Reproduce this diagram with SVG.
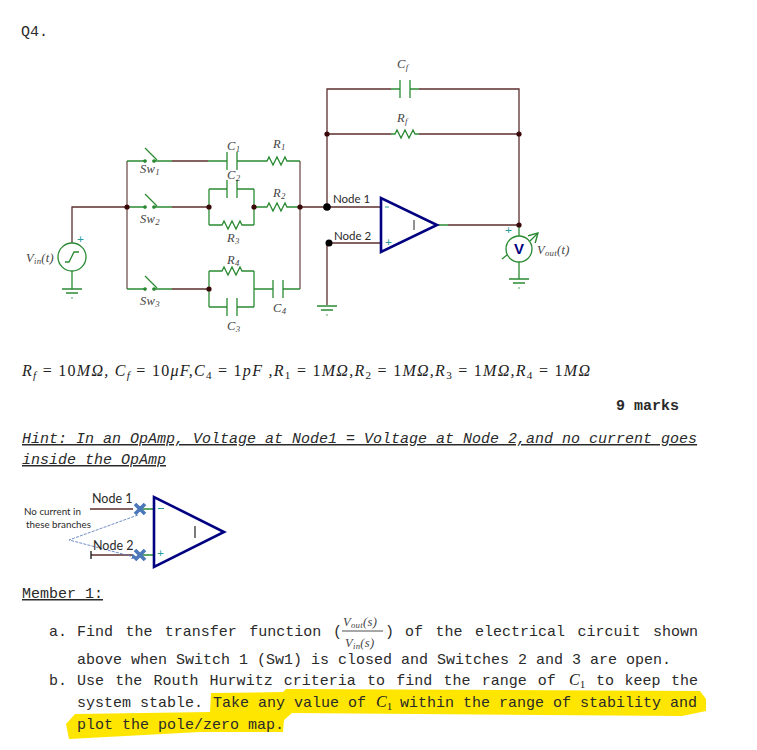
<svg xmlns="http://www.w3.org/2000/svg" width="757" height="750" viewBox="0 0 757 750">
<style>
text{font-family:"Lato","Liberation Sans",sans-serif;fill:#2a2a2a}
.m{font-family:"Liberation Mono",monospace;font-size:15px}
.e{font-family:"Liberation Serif",serif;font-style:italic;font-size:12.5px;fill:#444;letter-spacing:.3px}
.q{font-family:"Liberation Serif",serif;font-style:italic;font-size:16px;fill:#222}
.s{font-size:70%}
.n{font-size:11.5px}
.g,.b,.y,.t{fill:none}
.g{stroke:#2a8a32;stroke-width:1.3}
.b{stroke:#5c2f2f;stroke-width:1.3}
.y{stroke:#8d7272;stroke-width:1.6}
.t{stroke:#000080;stroke-width:2.6;stroke-linejoin:miter}
.d{fill:#3a0808}
.k{fill:#000}
.p{fill:#2a9a9a;font-size:12px}
.c{fill:none;stroke:#5f80c0;stroke-width:.9;stroke-dasharray:3 1.2}
.x{stroke:#4a78b8;stroke-width:3.6;fill:none}
</style>
<defs>
<path id="res" d="M0 0H4l2-4 4 8 4-8 4 8 4-8 2 4H28"/>
<path id="cap" d="M-5-9V9M5-9V9"/>
<g id="gnd"><path d="M-10 0H10M-6 4H6"/><path d="M-1 9H1" stroke-opacity=".5"/></g>
<g id="sw"><path d="M0 -13 12 -1"/><circle cx="0" r="1.2" fill="#2a8a32"/><circle cx="9" r="1.2" fill="#2a8a32"/></g>
<marker id="arr" markerWidth="8" markerHeight="8" refX="6" refY="4" orient="auto"><path d="M0 0 7 4 0 8" fill="none" stroke="#2a8a32" stroke-width="1.1"/></marker>
<marker id="cal" markerWidth="8" markerHeight="8" refX="7" refY="4" orient="auto"><path d="M0 1 7 4 0 7Z" fill="#4a78b8"/></marker>
</defs>

<path id="highlight" d="M211 693 283 692 286 689 700 691 706 699 706 711 682 716 292 713 284 720 283 732 200 732 69 739 66 724 75 714 210 712Z" fill="#ffe600"/>

<g id="connectors">
<path class="y" d="M127 161V289M300 161V289"/>
<path class="b" d="M72 243V207H127M172 161H208M172 207H209M172 289H209M300 207H381M327 207V89H391M419 89H519V225M327 134H391M419 134H519M329 243H381M327 243V305M448 225H519"/>
<path class="g" d="M127 161H145M154 161H172M208 161H227M237 161H263M291 161H300M127 207H145M153 207H172M209 189V225M254 189V225M209 189H227M237 189H254M209 225H218M246 225H254M254 207H263M291 207H300M127 289H145M154 289H172M209 271V307M254 271V307M209 271H218M246 271H254M209 307H227M237 307H254M254 289H273M283 289H300M72 271V289M519 225V236M519 262V279M391 89H400M410 89H419M437 225H448"/>
<use href="#res" class="g" x="263" y="161"/>
<use href="#res" class="g" x="263" y="207"/>
<use href="#res" class="g" x="218" y="225"/>
<use href="#res" class="g" x="218" y="271"/>
<use href="#res" class="g" x="391" y="134"/>
<use href="#cap" class="g" x="232" y="161"/>
<use href="#cap" class="g" x="232" y="189"/>
<use href="#cap" class="g" x="232" y="307"/>
<use href="#cap" class="g" x="278" y="289"/>
<use href="#cap" class="g" x="405" y="89"/>
<use href="#sw" class="g" x="145" y="161"/>
<use href="#sw" class="g" x="145" y="207"/>
<use href="#sw" class="g" x="145" y="289"/>
<use href="#gnd" class="g" x="72" y="289"/>
<use href="#gnd" class="g" x="327" y="306"/>
<use href="#gnd" class="g" x="519" y="279"/>
<path class="g" d="M502 259 507 255M530 241 537 234" marker-end="url(#arr)"/>
</g>

<g id="junctions">
<circle class="d" cx="127" cy="207" r="2.6"/>
<circle class="d" cx="209" cy="207" r="2.6"/>
<circle class="d" cx="254" cy="207" r="2.6"/>
<circle class="d" cx="300" cy="207" r="2.6"/>
<circle class="d" cx="209" cy="289" r="2.6"/>
<circle class="d" cx="327" cy="134" r="2.6"/>
<circle class="d" cx="519" cy="134" r="2.6"/>
<circle class="d" cx="519" cy="225" r="2.6"/>
</g>

<g id="labels">
<text class="e" x="227" y="150">C<tspan class="s" dy="2">1</tspan></text>
<text class="e" x="227" y="179">C<tspan class="s" dy="2">2</tspan></text>
<text class="e" x="227" y="242">R<tspan class="s" dy="2">3</tspan></text>
<text class="e" x="227" y="264">R<tspan class="s" dy="2">4</tspan></text>
<text class="e" x="227" y="330">C<tspan class="s" dy="2">3</tspan></text>
<text class="e" x="273" y="312">C<tspan class="s" dy="2">4</tspan></text>
<text class="e" x="273" y="148">R<tspan class="s" dy="2">1</tspan></text>
<text class="e" x="273" y="197">R<tspan class="s" dy="2">2</tspan></text>
<text class="e" x="140" y="173">Sw<tspan class="s" dy="2">1</tspan></text>
<text class="e" x="140" y="223">Sw<tspan class="s" dy="2">2</tspan></text>
<text class="e" x="140" y="305">Sw<tspan class="s" dy="2">3</tspan></text>
<text class="e" x="397" y="68">C<tspan class="s" dy="2">f</tspan></text>
<text class="e" x="397" y="122">R<tspan class="s" dy="2">f</tspan></text>
</g>

<g id="vin">
<circle cx="72" cy="257" r="14" fill="#fff" stroke="#2a8a32" stroke-width="1.3"/>
<path class="g" d="M65 262H69L74 252H79"/>
<text class="p" x="77" y="243">+</text>
<text class="e" x="26" y="262">V<tspan class="s" dy="2">in</tspan><tspan dy="-2">(t)</tspan></text>
</g>

<g id="vout">
<circle cx="519" cy="249" r="13" fill="#fff" stroke="#2a8a32" stroke-width="1.3"/>
<text x="519" y="254" text-anchor="middle" font-weight="bold" font-size="15" style="fill:#000080;font-family:'Liberation Sans',sans-serif">V</text>
<text class="p" x="505" y="234">+</text>
<text class="e" x="537" y="254">V<tspan class="s" dy="2">out</tspan><tspan dy="-2">(t)</tspan></text>
</g>

<g id="node1">
<circle class="k" cx="327" cy="207" r="3.8"/>
<text class="n" x="333" y="203">Node 1</text>
</g>
<g id="node2">
<circle class="k" cx="329" cy="243" r="3.5"/>
<text class="n" x="334" y="240">Node 2</text>
</g>
<g id="opamp">
<path class="t" d="M381 198V252L437 225Z"/>
<path d="M385 207H389" stroke="#2a9a9a"/>
<text class="p" x="385" y="246" font-size="9">+</text>
<path d="M414 220V230" stroke="#222"/>
</g>

<g id="question">
<text class="m" x="21" y="36">Q4.</text>
<text class="q" x="22" y="376" textLength="568">R<tspan class="s" dy="3">f</tspan><tspan dy="-3" font-style="normal"> = 10</tspan><tspan dy="0">MΩ,  C</tspan><tspan class="s" dy="3">f</tspan><tspan dy="-3" font-style="normal"> = 10</tspan><tspan>μF,C</tspan><tspan class="s" dy="3" font-style="normal">4</tspan><tspan dy="-3" font-style="normal"> = 1</tspan><tspan>pF  ,R</tspan><tspan class="s" dy="3" font-style="normal">1</tspan><tspan dy="-3" font-style="normal"> = 1</tspan><tspan>MΩ,R</tspan><tspan class="s" dy="3" font-style="normal">2</tspan><tspan dy="-3" font-style="normal"> = 1</tspan><tspan>MΩ,R</tspan><tspan class="s" dy="3" font-style="normal">3</tspan><tspan dy="-3" font-style="normal"> = 1</tspan><tspan>MΩ,R</tspan><tspan class="s" dy="3" font-style="normal">4</tspan><tspan dy="-3" font-style="normal"> = 1</tspan><tspan>MΩ</tspan></text>
<text class="m" x="616" y="410" font-weight="bold" font-size="13.5">9 marks</text>
<text class="m" x="22" y="443" font-style="italic" text-decoration="underline">Hint: In an OpAmp, Voltage at Node1 = Voltage at Node 2,and no current goes</text>
<text class="m" x="22" y="464" font-style="italic" text-decoration="underline">inside the OpAmp</text>
</g>

<g id="hint-opamp">
<path class="b" d="M90 509H133M91 555H133"/>
<path d="M91 551V559" stroke="#111" stroke-width="1.3"/>
<path class="g" d="M140 509H154M140 555H154"/>
<path class="t" d="M154 497V567L224 532Z" stroke-width="3"/>
<path d="M158 508.500H164" stroke="#2a9a9a"/>
<text class="p" x="157" y="557">+</text>
<path d="M195 526V538" stroke="#222" stroke-width="1.2"/>
<path class="x" d="M135 504 145 514M145 504 135 514M135 550 145 560M145 550 135 560"/>
<path class="c" d="M138 515 69 540 138 558" marker-end="url(#cal)"/>
<text x="92" y="503" font-size="12.500">Node 1</text>
<text x="93" y="550" font-size="12.500">Node 2</text>
<text x="24" y="515" font-size="9.8">No current in</text>
<text x="26" y="528" font-size="9.8">these branches</text>
</g>

<g id="members">
<text class="m" x="22" y="598" text-decoration="underline">Member 1:</text>
<text class="m" x="49" y="636">a.</text>
<text class="m" x="77" y="636" word-spacing="3.4">Find the transfer function</text>
<text class="m" x="333" y="636">(</text>
<text class="e" x="343" y="626" font-size="12">V<tspan class="s" dy="2">out</tspan><tspan dy="-2">(s)</tspan></text>
<path d="M342 631H383" stroke="#222" stroke-width=".8"/>
<text class="e" x="345" y="647" font-size="12">V<tspan class="s" dy="2">in</tspan><tspan dy="-2">(s)</tspan></text>
<text class="m" x="385" y="636">)</text>
<text class="m" x="405" y="636" word-spacing="3.5">of the electrical circuit shown</text>
<text class="m" x="77" y="664">above when Switch 1 (Sw1) is closed and Switches 2 and 3 are open.</text>
<text class="m" x="49" y="685">b.</text>
<text class="m" x="77" y="685" word-spacing="2.2">Use the Routh Hurwitz criteria to find the range of</text>
<text class="q" x="569" y="685" font-size="14">C<tspan class="s" dy="3" font-style="normal">1</tspan></text>
<text class="m" x="596" y="685" word-spacing="1.5">to keep the</text>
<text class="m" x="77" y="707">system stable.</text>
<text class="m" x="213" y="707">Take any value of</text>
<text class="q" x="376" y="707" font-size="14">C<tspan class="s" dy="3" font-style="normal">1</tspan></text>
<text class="m" x="400" y="707">within the range of stability and</text>
<text class="m" x="77" y="729">plot the pole/zero map.</text>
</g>
</svg>
